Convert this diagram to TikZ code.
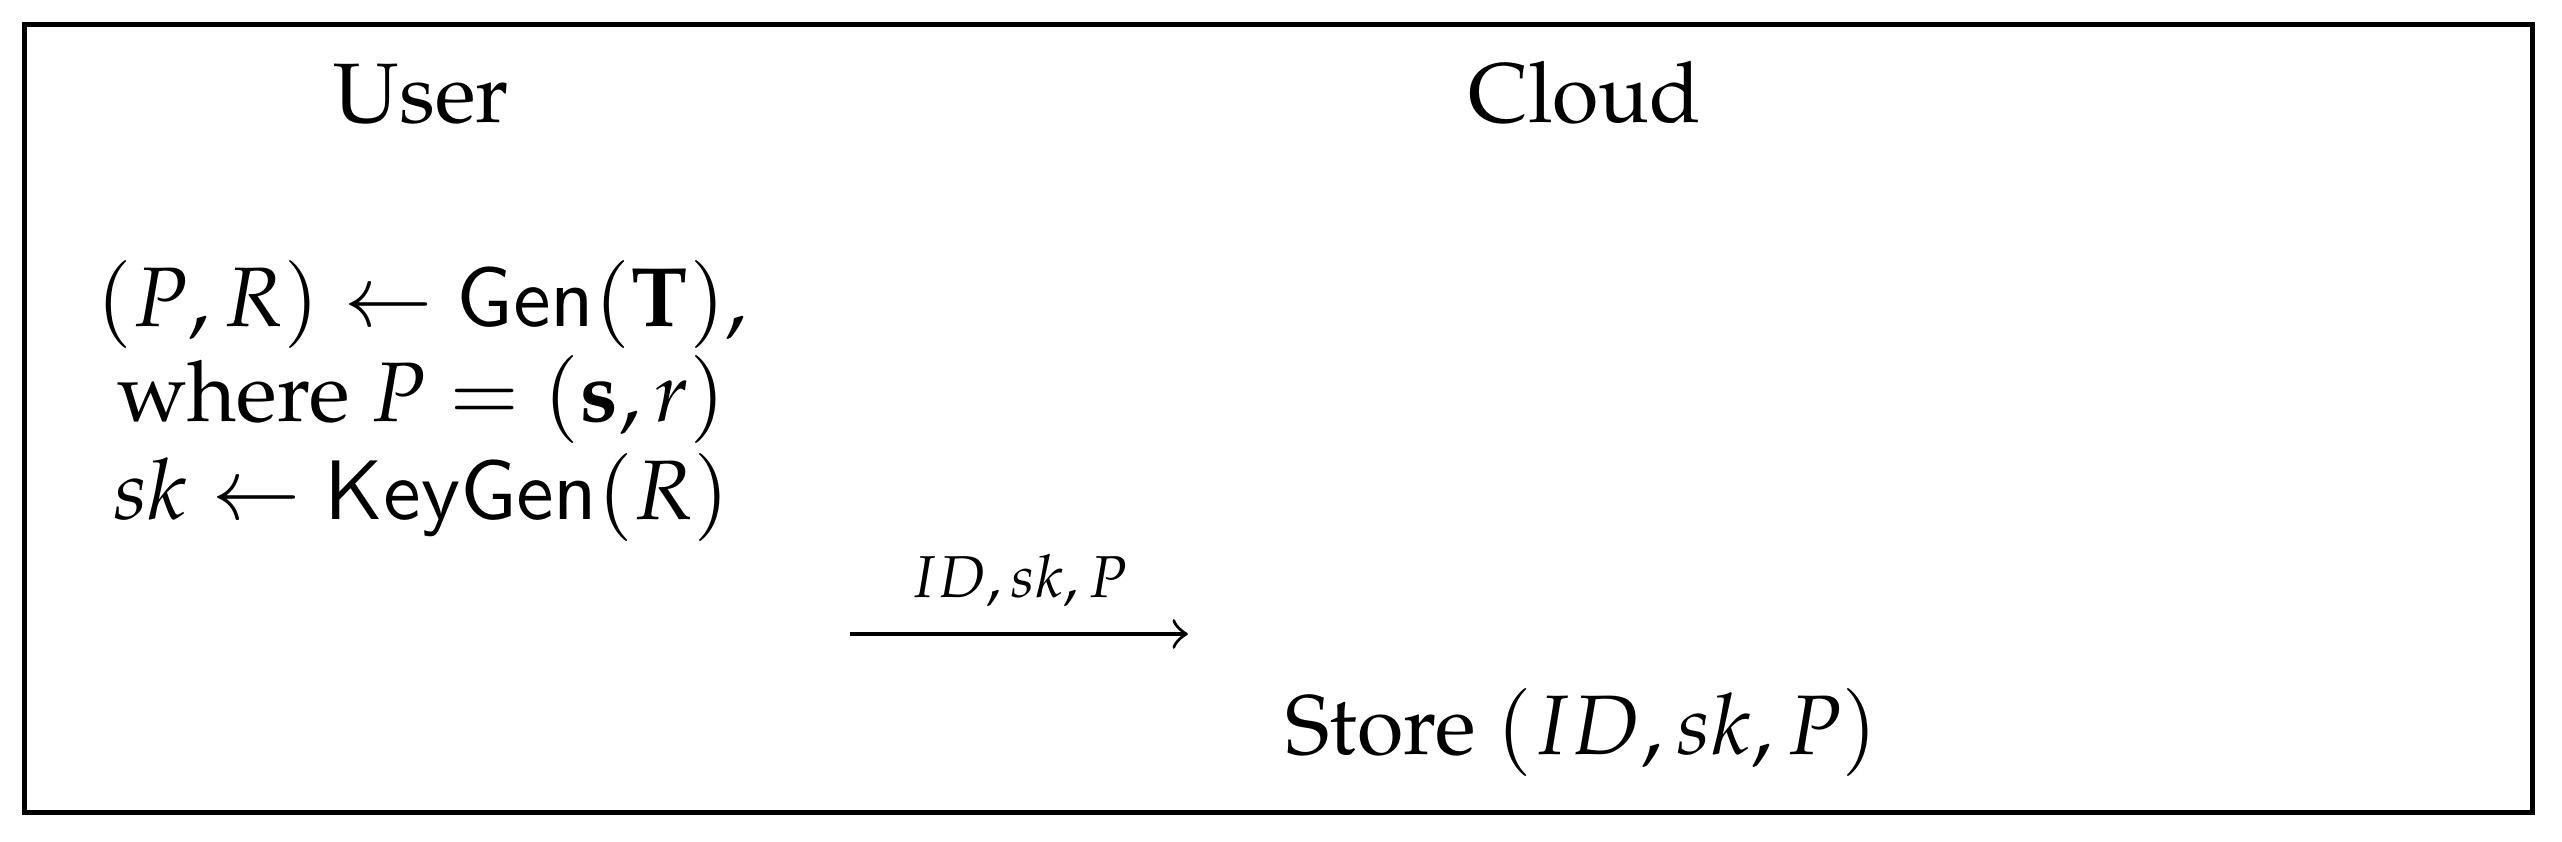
\documentclass[tikz,border=0pt]{standalone}
\usepackage[T1]{fontenc}
\usepackage{mathpazo}
\begin{document}
\begin{tikzpicture}[x=0.1935pt,y=-0.1935pt,
  lbl/.style={inner sep=0pt,anchor=base,font=\fontsize{10}{12}\selectfont}]
\useasboundingbox (0,0) rectangle (1568,515);
\draw[line width=0.6pt] (15,15) rectangle (1550,497);
\node[lbl] (user) at (258,75) {User};
\node[lbl] (cloud) at (970,75) {Cloud};
\node[lbl] (l1) at (258,200) {$(P,R)\leftarrow\mathsf{Gen}(\mathbf{T})$,};
\node[lbl] (l2) at (258,258) {where $P=(\mathbf{s},r)$};
\node[lbl] (l3) at (258,318) {$sk\leftarrow\mathsf{KeyGen}(R)$};
\coordinate (a1) at (520,388);
\coordinate (a2) at (727,388);
\draw[->,line width=0.4pt] (a1) -- node[above=2pt,font=\scriptsize,inner sep=1pt] {$ID,sk,P$} (a2);
\node[lbl] (store) at (968,462) {Store $(ID,sk,P)$};
\end{tikzpicture}
\end{document}
